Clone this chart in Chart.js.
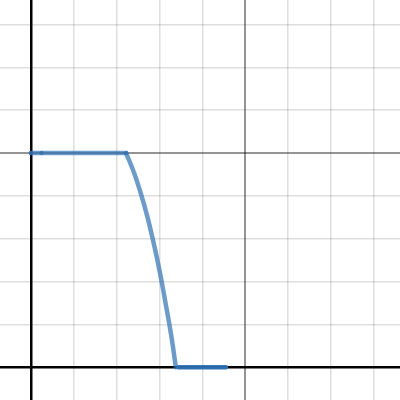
<!DOCTYPE html>
<html>
<head>
<meta charset="utf-8">
<script src="https://cdn.jsdelivr.net/npm/chart.js@4"></script>
<style>
  body { margin: 0; background: #fff; }
  #wrap { width: 400px; height: 400px; }
</style>
</head>
<body>
<div id="wrap"><canvas id="graph"></canvas></div>
<script>
// visible window (graph units)
const xMin = -0.723, xMax = 8.611;
const yMin = -0.763, yMax = 8.572;

// flat top part
const topX = [0, 2.22];
const topY = [5, 5];

// falling curve
const curveX = [2.22, 2.42, 2.58, 2.72, 2.84, 2.95, 3.05, 3.14, 3.23, 3.31, 3.38];
const curveY = [5, 4.5, 4, 3.5, 3, 2.5, 2, 1.5, 1, 0.5, 0];

// flat bottom part
const bottomX = [3.44, 4.55];
const bottomY = [0, 0];

// little joint dots on the top line
const dotX = [0, 0.25];
const dotY = [5, 5];

const toPts = (xs, ys) => xs.map((x, i) => ({ x: x, y: ys[i] }));

const blue = "rgba(45, 112, 179, 0.7)";
const blueDark = "rgba(45, 112, 179, 0.95)";

function gridColor(ctx) {
  const v = ctx.tick ? ctx.tick.value : null;
  if (v === 0) return "#000";
  if (v % 5 === 0) return "rgba(0, 0, 0, 0.42)";
  return "rgba(0, 0, 0, 0.13)";
}
function gridWidth(ctx) {
  const v = ctx.tick ? ctx.tick.value : null;
  if (v === 0) return 2.5;
  if (v % 5 === 0) return 2;
  return 1.5;
}

const axisOpts = (min, max) => ({
  type: "linear",
  min: min,
  max: max,
  ticks: { display: false, stepSize: 1, includeBounds: false },
  grid: { color: gridColor, lineWidth: gridWidth, drawTicks: false },
  border: { display: false }
});

new Chart(document.getElementById("graph"), {
  type: "scatter",
  data: {
    datasets: [
      {
        data: toPts(topX, topY),
        showLine: true, borderColor: blue, borderWidth: 4.5,
        borderCapStyle: "round", pointRadius: 0
      },
      {
        data: toPts(curveX, curveY),
        showLine: true, borderColor: blue, borderWidth: 4.5,
        borderCapStyle: "round", borderJoinStyle: "round",
        cubicInterpolationMode: "monotone", pointRadius: 0
      },
      {
        data: toPts(bottomX, bottomY),
        showLine: true, borderColor: blueDark, borderWidth: 4.5,
        borderCapStyle: "round", pointRadius: 0
      },
      {
        data: toPts(dotX, dotY),
        showLine: false, pointRadius: 2.2, borderWidth: 0,
        backgroundColor: blue
      }
    ]
  },
  options: {
    responsive: true,
    maintainAspectRatio: false,
    animation: false,
    layout: { padding: 0, autoPadding: false },
    plugins: { legend: { display: false }, tooltip: { enabled: false } },
    scales: {
      x: axisOpts(xMin, xMax),
      y: axisOpts(yMin, yMax)
    }
  }
});
</script>
</body>
</html>
